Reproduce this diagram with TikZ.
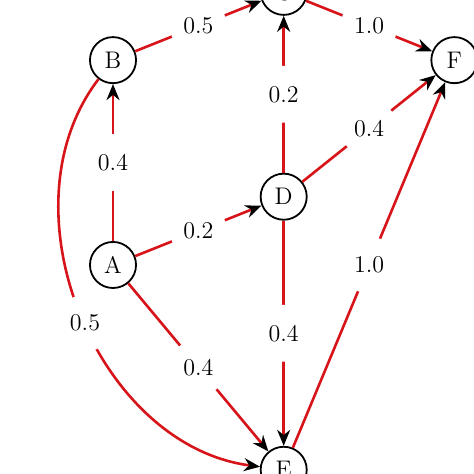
\documentclass[tikz,border=0pt]{standalone}
\usepackage{xcolor}
\usepackage{tikz}
\usetikzlibrary{arrows.meta}

\definecolor{edgered}{RGB}{215,20,25}

\begin{document}
\begin{tikzpicture}[
        state/.style={draw, circle, line width=0.9pt, minimum size=0.81cm, inner sep=0pt, font=\large},
        edge/.style={->, draw=edgered, line width=1.3pt},
        weight/.style={circle, fill=white, minimum size=1cm, inner sep=0pt, font=\large},
        >={Stealth[length=8pt,width=6.5pt,color=black]}
    ]
        \useasboundingbox (-1.986,-3.673) rectangle (6.345,4.657);

        \node[state] (A) at (0,0) {A};
        \node[state] (B) at (0,3.6) {B};
        \node[state] (C) at (3,4.8) {C};
        \node[state] (D) at (3,1.2) {D};
        \node[state] (E) at (3,-3.6) {E};
        \node[state] (F) at (6,3.6) {F};

        \draw[edge] (A) -- node[weight]{0.4} (B);
        \draw[edge] (A) -- node[weight]{0.2} (D);
        \draw[edge] (A) -- node[weight]{0.4} (E);
        \draw[edge] (B) -- node[weight]{0.5} (C);
        \draw[edge] (B) to[bend right=60] node[weight, pos=0.52]{0.5} (E);
        \draw[edge] (C) -- node[weight]{1.0} (F);
        \draw[edge] (D) -- node[weight]{0.2} (C);
        \draw[edge] (D) -- node[weight]{0.4} (F);
        \draw[edge] (D) -- node[weight]{0.4} (E);
        \draw[edge] (E) -- node[weight]{1.0} (F);
\end{tikzpicture}
\end{document}
